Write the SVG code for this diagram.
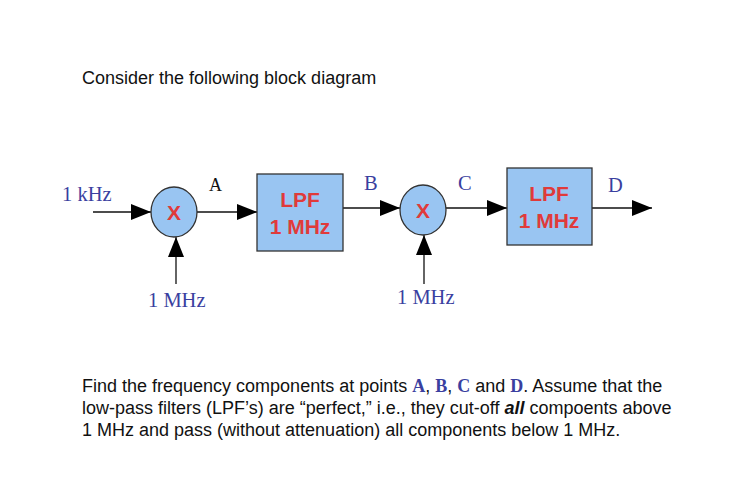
<svg xmlns="http://www.w3.org/2000/svg" width="743" height="493" viewBox="0 0 743 493">
<style>
.t{font-family:"Liberation Sans",Arial,sans-serif;font-size:18px;fill:#111}
.s{font-family:"Liberation Serif","Times New Roman",serif;font-size:20.5px;fill:#3a3fa0}
.ln{stroke:#111;stroke-width:1.3;fill:none}
.box{fill:#99c5f2;stroke:#333;stroke-width:1.3}
.r{font-family:"Liberation Sans",Arial,sans-serif;font-weight:bold;font-size:21px;fill:#e03a3a;text-anchor:middle}
</style>
<defs>
<marker id="ab" viewBox="0 0 10 8" markerWidth="24" markerHeight="16" refX="10" refY="4" orient="auto" markerUnits="userSpaceOnUse"><path d="M0,0L10,4L0,8z" fill="#000"/></marker></defs>
<rect width="743" height="493" fill="#fff"/>
<text class="t" x="82" y="84">Consider the following block diagram</text>
<g id="connectors">
<line class="ln" x1="93" y1="212" x2="151" y2="212" marker-end="url(#ab)"/>
<line class="ln" x1="176" y1="284" x2="176" y2="237" marker-end="url(#ab)"/>
<line class="ln" x1="197" y1="212" x2="257" y2="212" marker-end="url(#ab)"/>
<line class="ln" x1="343" y1="208" x2="400" y2="208" marker-end="url(#ab)"/>
<line class="ln" x1="424" y1="284" x2="424" y2="235" marker-end="url(#ab)"/>
<line class="ln" x1="446" y1="208" x2="507" y2="208" marker-end="url(#ab)"/>
<line class="ln" x1="592" y1="208" x2="652" y2="208" marker-end="url(#ab)"/>
</g>
<g id="mixer1"><ellipse class="box" cx="174" cy="212" rx="23" ry="25"/><text class="r" x="174" y="220">X</text></g>
<g id="lpf1"><rect class="box" x="257" y="174" width="86" height="77"/><text class="r" x="300" y="207">LPF</text><text class="r" x="300" y="234">1 MHz</text></g>
<g id="mixer2"><ellipse class="box" cx="423" cy="210" rx="23" ry="25"/><text class="r" x="423" y="218">X</text></g>
<g id="lpf2"><rect class="box" x="507" y="168" width="85" height="77"/><text class="r" x="549" y="201">LPF</text><text class="r" x="549" y="228">1 MHz</text></g>
<g id="labels">
<text class="s" x="62" y="201">1 kHz</text>
<text class="s" x="209" y="191" style="fill:#111;font-size:18px">A</text>
<text class="s" x="364" y="190">B</text>
<text class="s" x="458" y="190">C</text>
<text class="s" x="608" y="192">D</text>
<text class="s" x="148" y="307">1 MHz</text>
<text class="s" x="397" y="304">1 MHz</text>
</g>
<text class="t" x="82" y="392">Find the frequency components at points <tspan font-family="Liberation Serif" font-weight="bold" fill="#3a3fa0">A</tspan>, <tspan font-family="Liberation Serif" font-weight="bold" fill="#3a3fa0">B</tspan>, <tspan font-family="Liberation Serif" font-weight="bold" fill="#3a3fa0">C</tspan> and <tspan font-family="Liberation Serif" font-weight="bold" fill="#3a3fa0">D</tspan>.  Assume that the</text>
<text class="t" x="82" y="414">low-pass filters (LPF’s) are “perfect,” i.e., they cut-off <tspan font-weight="bold" font-style="italic">all</tspan> compoents above</text>
<text class="t" x="82" y="436">1 MHz and pass (without attenuation) all components below 1 MHz.</text>
</svg>
